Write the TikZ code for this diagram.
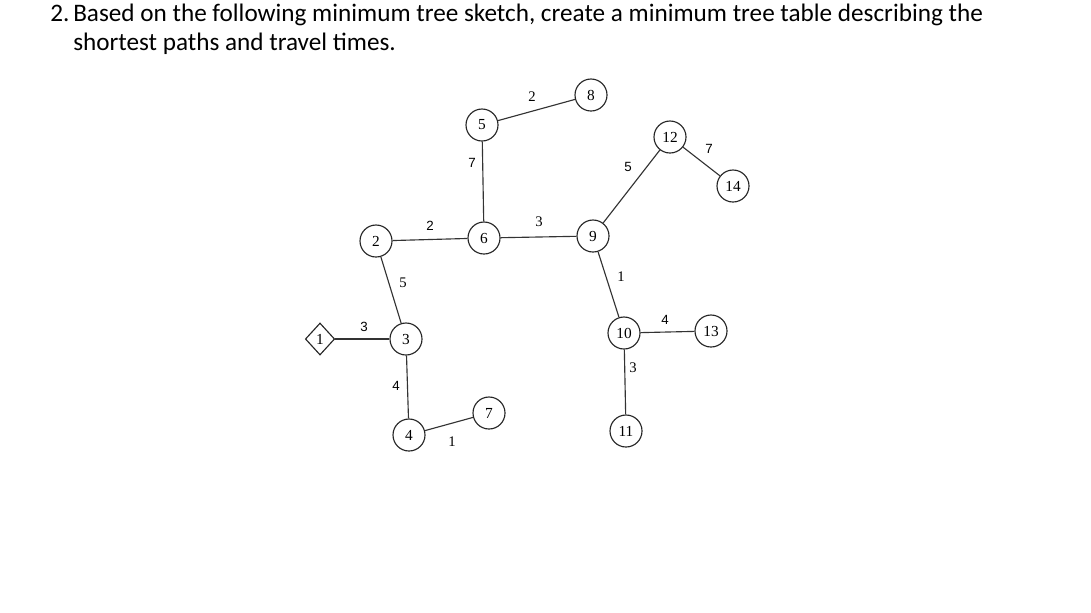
\documentclass[tikz,border=0pt]{standalone}
\usepackage{fontspec}
\setmainfont{Liberation Serif}
\newfontfamily\hdfont{Carlito}
\newfontfamily\lsans{Liberation Sans}
\usetikzlibrary{shapes.geometric}
\begin{document}
\begin{tikzpicture}[x=0.75pt,y=-0.75pt,
  vtx/.style={circle,draw=black!85,line width=0.85pt,minimum size=24pt,inner sep=0pt,font=\fontsize{11.5}{12}\selectfont},
  src/.style={diamond,draw=black!85,line width=0.85pt,minimum width=22pt,minimum height=24pt,inner sep=0pt,font=\fontsize{11.5}{12}\selectfont},
  edge/.style={draw=black!80,line width=0.85pt},
  wl/.style={inner sep=0pt,font=\fontsize{11}{12}\selectfont},
  wls/.style={inner sep=0pt,font=\lsans\fontsize{10}{12}\selectfont},
  hd/.style={anchor=base west,inner sep=0pt,font=\hdfont\fontsize{18.9}{20}\selectfont}]
\useasboundingbox (0,0) rectangle (1091,612);
\node[hd] (num) at (50,21) {2.};
\node[hd] (l1) at (73,21) {Based on the following minimum tree sketch, create a minimum tree table describing the};
\node[hd] (l2) at (73,50) {shortest paths and travel times.};
% vertices
\node[src] (n1) at (320,339) {1};
\node[vtx] (n3) at (406,339) {3};
\node[vtx] (n4) at (409,435) {4};
\node[vtx] (n7) at (489,413) {7};
\node[vtx] (n2) at (376,241) {2};
\node[vtx] (n6) at (484,238) {6};
\node[vtx] (n5) at (482,125) {5};
\node[vtx] (n8) at (591,95) {8};
\node[vtx] (n9) at (593,236) {9};
\node[vtx] (n12) at (670,137) {12};
\node[vtx] (n14) at (733,186) {14};
\node[vtx] (n10) at (624,333) {10};
\node[vtx] (n13) at (711,331) {13};
\node[vtx] (n11) at (626,431) {11};
% edges
\draw[edge] (n1) -- (n3);
\draw[edge] (n3) -- (n2);
\draw[edge] (n3) -- (n4);
\draw[edge] (n4) -- (n7);
\draw[edge] (n2) -- (n6);
\draw[edge] (n6) -- (n5);
\draw[edge] (n5) -- (n8);
\draw[edge] (n6) -- (n9);
\draw[edge] (n9) -- (n12);
\draw[edge] (n12) -- (n14);
\draw[edge] (n9) -- (n10);
\draw[edge] (n10) -- (n13);
\draw[edge] (n10) -- (n11);
% weights
\node[wls] (w13) at (364,327) {3};
\node[wl] (w32) at (403,283) {5};
\node[wls] (w34) at (396,386) {4};
\node[wl] (w47) at (452,442) {1};
\node[wls] (w26) at (430,226) {2};
\node[wls] (w65) at (472,163) {7};
\node[wl] (w58) at (532,97) {2};
\node[wl] (w69) at (539,222) {3};
\node[wls] (w912) at (628,167) {5};
\node[wls] (w1214) at (709,149) {7};
\node[wl] (w910) at (621,277) {1};
\node[wls] (w1013) at (665,320) {4};
\node[wl] (w1011) at (633,368) {3};
\end{tikzpicture}
\end{document}
